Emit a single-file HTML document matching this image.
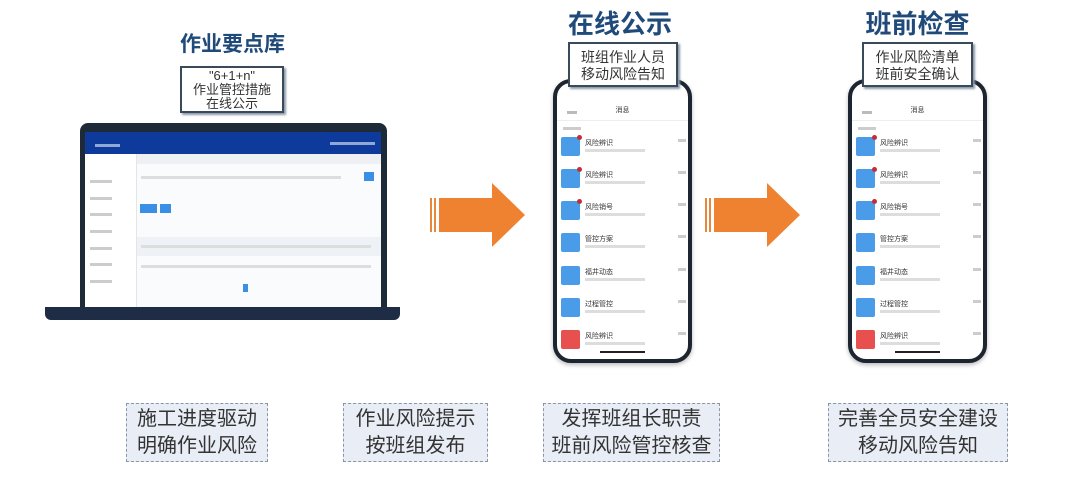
<!DOCTYPE html>
<html><head><meta charset="utf-8"><style>
*{margin:0;padding:0;box-sizing:border-box}
body{width:1080px;height:500px;background:#fff;position:relative;overflow:hidden;font-family:"Liberation Sans","Noto Sans CJK SC",sans-serif}
.a{position:absolute}
.title{position:absolute;color:#1f4a7a;font-weight:bold;text-align:center}
.lbl{position:absolute;background:#fff;border:2px solid #3a4a5a;box-shadow:2px 2px 2px #8a9aaa;text-align:center;color:#333;font-size:13px;line-height:15px}
.bot{position:absolute;top:403px;height:59px;background:#e9eef6;border:1px dashed #8a96a8;text-align:center;color:#333;font-size:20px;line-height:27px;padding-top:2px}
.phone{position:absolute;top:79px;width:139px;height:284px;border:4px solid #1c2530;border-radius:18px;background:#fff;overflow:hidden;box-shadow:0 2px 4px #bbb}
.it{position:absolute;left:4px;width:125px;height:26px}
.ic{position:absolute;left:0;top:0;width:19px;height:19px;background:#4a9be8;border-radius:2px}
.it b{position:absolute;left:24px;top:1px;font-size:7px;color:#333;font-weight:normal}
.it i{position:absolute;left:24px;top:12px;width:60px;height:3px;background:#ddd}
.it s{position:absolute;right:0;top:2px;width:8px;height:3px;background:#ccc}
.dot{position:absolute;left:16px;top:-2px;width:5px;height:5px;background:#c0303a;border-radius:50%}
.sb{position:absolute;left:4px;width:22px;height:3px;background:#ccc}
.sr{position:absolute;left:141px;width:230px;height:3px;background:#ddd}
</style></head><body>

<div class="title" style="left:150px;top:28px;width:165px;font-size:21px">作业要点库</div>
<div class="lbl" style="left:180px;top:66px;width:104px;height:47px;padding-top:1px;line-height:14px">"6+1+n"<br>作业管控措施<br>在线公示</div>

<div class="a" style="left:80px;top:123px;width:307px;height:186px;background:#1f2a38;border-radius:8px 8px 0 0"></div>
<div class="a" style="left:85px;top:132px;width:296px;height:175px;background:#fafbfc"></div>
<div class="a" style="left:85px;top:132px;width:296px;height:22px;background:#0e3a9c"></div>
<div class="a" style="left:95px;top:144px;width:25px;height:3px;background:#8ea8d8"></div>
<div class="a" style="left:330px;top:142px;width:45px;height:3px;background:#8ea8d8"></div>
<div class="a" style="left:85px;top:154px;width:52px;height:153px;background:#fff;border-right:1px solid #e5e5e5"></div>
<div class="sb" style="left:90px;top:180px"></div><div class="sb" style="left:90px;top:197px"></div><div class="sb" style="left:90px;top:213px"></div><div class="sb" style="left:90px;top:230px"></div><div class="sb" style="left:90px;top:247px"></div><div class="sb" style="left:90px;top:263px"></div><div class="sb" style="left:90px;top:280px"></div>
<div class="a" style="left:137px;top:154px;width:244px;height:10px;background:#eef0f3"></div>
<div class="sr" style="top:176px;width:200px"></div>
<div class="a" style="left:364px;top:172px;width:10px;height:9px;background:#3a8ee6"></div>
<div class="a" style="left:140px;top:204px;width:17px;height:9px;background:#3a8ee6"></div>
<div class="a" style="left:160px;top:204px;width:11px;height:9px;background:#3a8ee6"></div>
<div class="a" style="left:137px;top:237px;width:244px;height:19px;background:#eef1f5"></div>
<div class="sr" style="top:245px"></div><div class="sr" style="top:265px"></div>
<div class="a" style="left:243px;top:284px;width:5px;height:8px;background:#3a8ee6"></div>
<div class="a" style="left:45px;top:307px;width:355px;height:13px;background:#1e2d45;border-radius:0 0 6px 6px"></div>

<svg class="a" style="left:425px;top:180px" width="110" height="70">
<rect x="5" y="18" width="2" height="34" fill="#e8863a"/><rect x="9" y="18" width="2" height="34" fill="#e8863a"/>
<polygon points="14,18 67,18 67,3 100,35 67,67 67,52 14,52" fill="#ef8230"/></svg>
<svg class="a" style="left:700px;top:180px" width="110" height="70">
<rect x="5" y="18" width="2" height="34" fill="#e8863a"/><rect x="9" y="18" width="2" height="34" fill="#e8863a"/>
<polygon points="14,18 67,18 67,3 100,35 67,67 67,52 14,52" fill="#ef8230"/></svg>

<div class="title" style="left:555px;top:4px;width:130px;font-size:26px">在线公示</div>
<div class="title" style="left:850px;top:4px;width:135px;font-size:26px">班前检查</div>

<div class="phone" style="left:553px">
 <div class="a" style="left:10px;top:28px;width:10px;height:3px;background:#bbb"></div>
 <div class="a" style="left:0;top:18px;width:131px;height:20px;border-bottom:1px solid #eee;font-size:7px;color:#333;text-align:center;line-height:20px">消息</div>
 <div class="a" style="left:6px;top:44px;width:18px;height:3px;background:#ccc"></div>
 <div class="it" style="top:54px"><div class="ic"></div><div class="dot"></div><b>风险辨识</b><i></i><s></s></div>
 <div class="it" style="top:86px"><div class="ic"></div><div class="dot"></div><b>风险辨识</b><i></i><s></s></div>
 <div class="it" style="top:118px"><div class="ic"></div><div class="dot"></div><b>风险销号</b><i></i><s></s></div>
 <div class="it" style="top:150px"><div class="ic"></div><b>管控方案</b><i></i><s></s></div>
 <div class="it" style="top:183px"><div class="ic"></div><b>福井动态</b><i></i><s></s></div>
 <div class="it" style="top:215px"><div class="ic"></div><b>过程管控</b><i></i><s></s></div>
 <div class="it" style="top:247px"><div class="ic" style="background:#e85050"></div><b>风险辨识</b><i></i><s></s></div>
 <div class="a" style="left:43px;top:268px;width:45px;height:2px;background:#222"></div>
</div>
<div class="phone" style="left:848px">
 <div class="a" style="left:10px;top:28px;width:10px;height:3px;background:#bbb"></div>
 <div class="a" style="left:0;top:18px;width:131px;height:20px;border-bottom:1px solid #eee;font-size:7px;color:#333;text-align:center;line-height:20px">消息</div>
 <div class="a" style="left:6px;top:44px;width:18px;height:3px;background:#ccc"></div>
 <div class="it" style="top:54px"><div class="ic"></div><div class="dot"></div><b>风险辨识</b><i></i><s></s></div>
 <div class="it" style="top:86px"><div class="ic"></div><div class="dot"></div><b>风险辨识</b><i></i><s></s></div>
 <div class="it" style="top:118px"><div class="ic"></div><div class="dot"></div><b>风险销号</b><i></i><s></s></div>
 <div class="it" style="top:150px"><div class="ic"></div><b>管控方案</b><i></i><s></s></div>
 <div class="it" style="top:183px"><div class="ic"></div><b>福井动态</b><i></i><s></s></div>
 <div class="it" style="top:215px"><div class="ic"></div><b>过程管控</b><i></i><s></s></div>
 <div class="it" style="top:247px"><div class="ic" style="background:#e85050"></div><b>风险辨识</b><i></i><s></s></div>
 <div class="a" style="left:43px;top:268px;width:45px;height:2px;background:#222"></div>
</div>
<div class="lbl" style="left:568px;top:42px;width:110px;height:45px;padding-top:5px;font-size:14px;line-height:17px">班组作业人员<br>移动风险告知</div>
<div class="lbl" style="left:862px;top:42px;width:111px;height:45px;padding-top:5px;font-size:14px;line-height:17px">作业风险清单<br>班前安全确认</div>

<div class="bot" style="left:126px;width:142px">施工进度驱动<br>明确作业风险</div>
<div class="bot" style="left:343px;width:145px">作业风险提示<br>按班组发布</div>
<div class="bot" style="left:543px;width:177px">发挥班组长职责<br>班前风险管控核查</div>
<div class="bot" style="left:828px;width:180px">完善全员安全建设<br>移动风险告知</div>
</body></html>
